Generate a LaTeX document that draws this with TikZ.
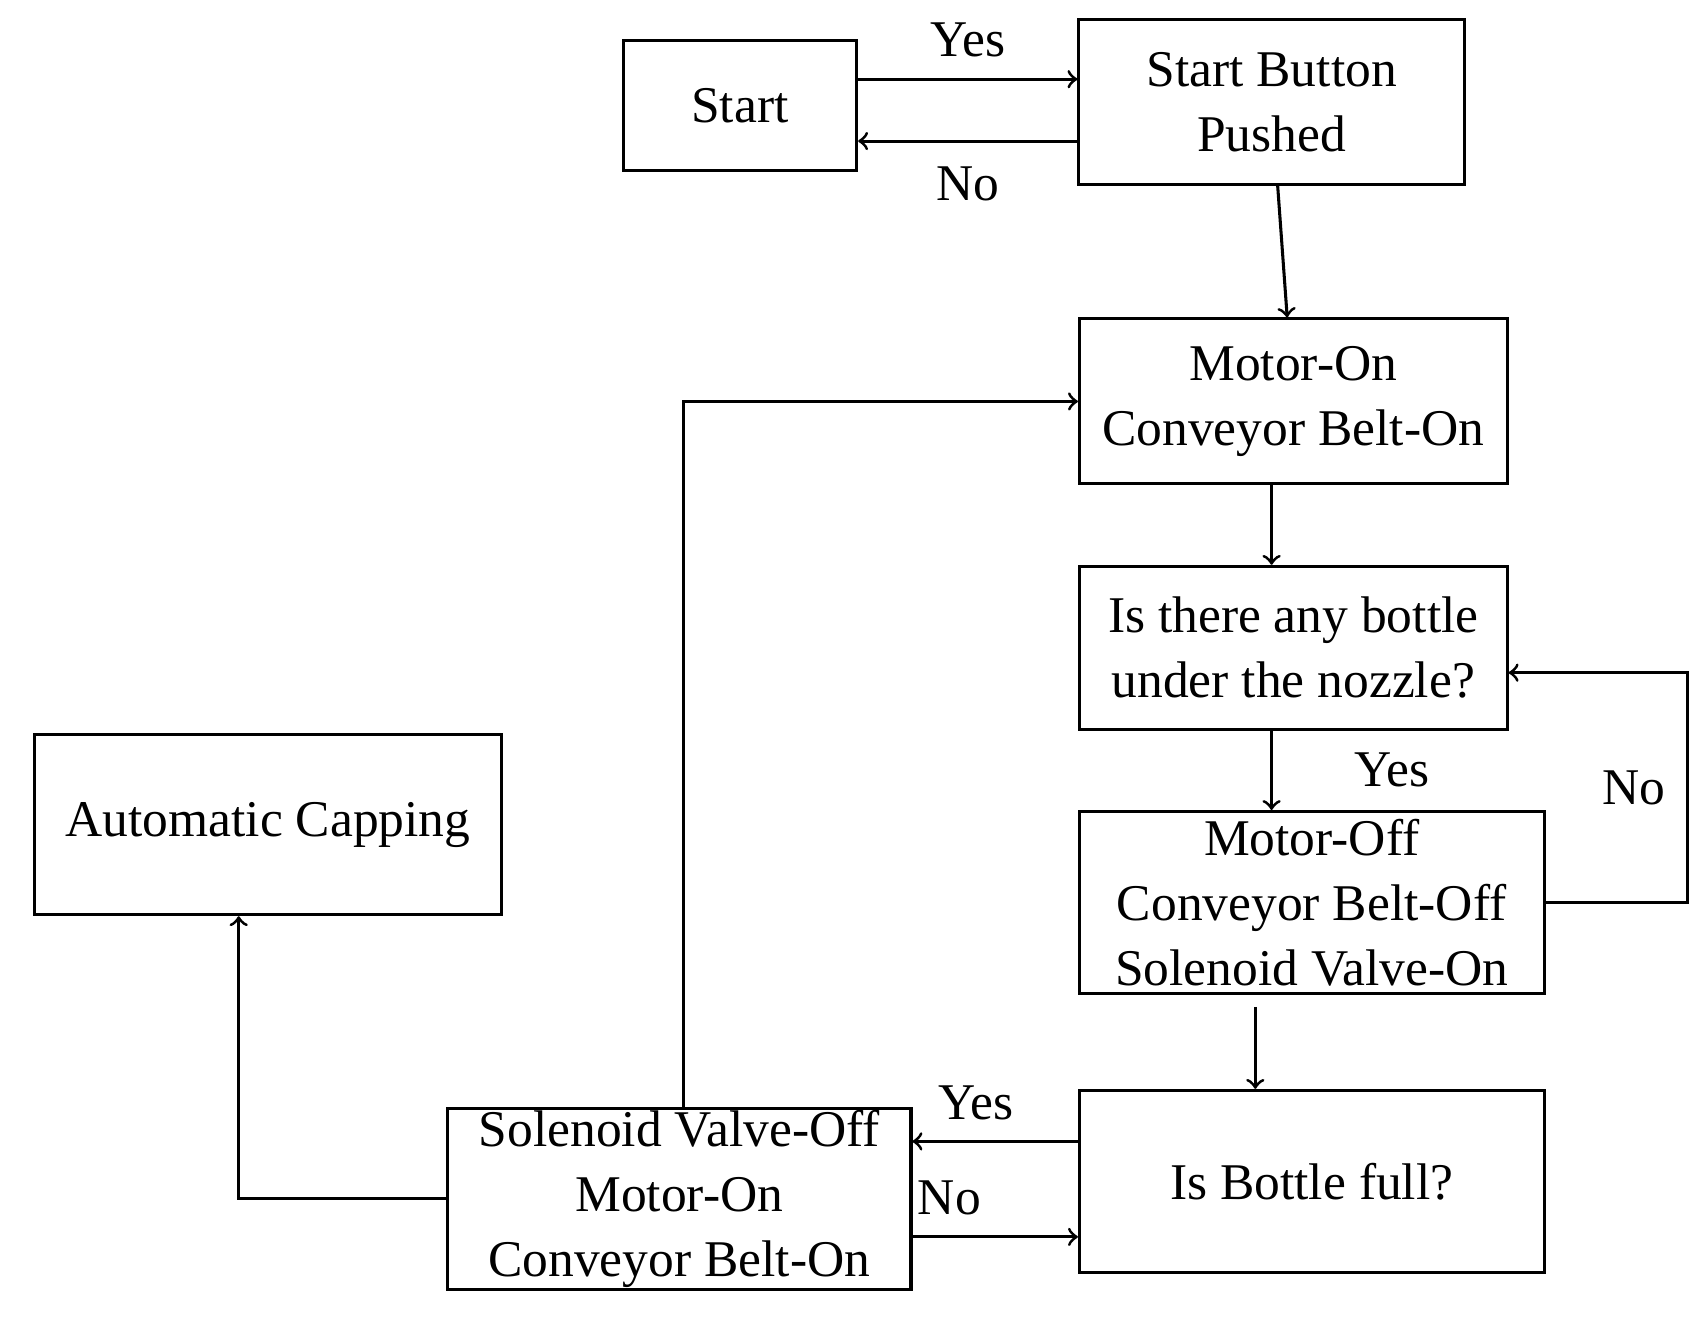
\documentclass[tikz,border=0pt]{standalone}
\usepackage{fontspec}
\setmainfont{Liberation Serif}
\begin{document}
\begin{tikzpicture}
		[x=0.01cm,y=-0.01cm,
		box/.style={rectangle,draw,thick,align=center,inner sep=0pt,
font=\fontsize{13.5}{17}\selectfont},
		textstyle/.style={font=\fontsize{13.5}{17}\selectfont},
		edgestyle/.style={->,thick}]
		\useasboundingbox (0,0) rectangle (1565,1218);
		\node at (682,97) (start) [box,minimum width=2.15cm,minimum height=1.2cm] {Start};
		\node at (1172,94) (button) [box,minimum width=3.55cm,minimum height=1.52cm] {Start Button\\Pushed};
		\node at (1192,370) (moton) [box,minimum width=3.94cm,minimum height=1.52cm] {Motor-On\\Conveyor Belt-On};
		\node at (1192,597) (bottle) [box,minimum width=3.94cm,minimum height=1.5cm] {Is there any bottle\\under the nozzle?};
		\node at (1209,832) (motoff) [box,minimum width=4.28cm,minimum height=1.68cm] {Motor-Off\\Conveyor Belt-Off\\Solenoid Valve-On};
		\node at (1209,1089) (full) [box,minimum width=4.28cm,minimum height=1.68cm] {Is Bottle full?};
		\node at (626,1105) (valveoff) [box,minimum width=4.27cm,minimum height=1.67cm] {Solenoid Valve-Off\\Motor-On\\Conveyor Belt-On};
		\node at (247,760) (capping) [box,minimum width=4.31cm,minimum height=1.66cm] {Automatic Capping};
		\coordinate (loopa) at (1555,832);
		\coordinate (loopb) at (1555,620);
		\coordinate (backa) at (630,370);
		\coordinate (capa) at (220,1105);
		\draw [edgestyle] (start.east |- 0,73) -- node[textstyle,above=2pt] {Yes} (button.west |- 0,73);
		\draw [edgestyle] (button.west |- 0,130) -- node[textstyle,below=3pt] {No} (start.east |- 0,130);
		\draw [edgestyle] (button) -- (moton);
		\draw [edgestyle] (moton.south -| 1172,0) -- (bottle.north -| 1172,0);
		\draw [edgestyle] (bottle.south -| 1172,0) -- node[textstyle,right=18pt] {Yes} (motoff.north -| 1172,0);
		\draw [edgestyle] (motoff.east) -- (loopa) -- node[textstyle,left=2pt] {No} (loopb) -- (bottle.east |- loopb);
		\draw [edgestyle] (1157,928) -- (full.north -| 1157,0);
		\draw [edgestyle] (full.west |- 0,1052) -- node[textstyle,above=2pt,xshift=-5pt] {Yes} (valveoff.east |- 0,1052);
		\draw [edgestyle] (valveoff.east |- 0,1140) -- node[textstyle,above=2pt,xshift=-12pt] {No} (full.west |- 0,1140);
		\draw [edgestyle] (valveoff.north -| backa) -- (backa) -- (moton.west);
		\draw [edgestyle] (valveoff.west) -- (capa) -- (capping.south -| capa);
	\end{tikzpicture}
\end{document}
